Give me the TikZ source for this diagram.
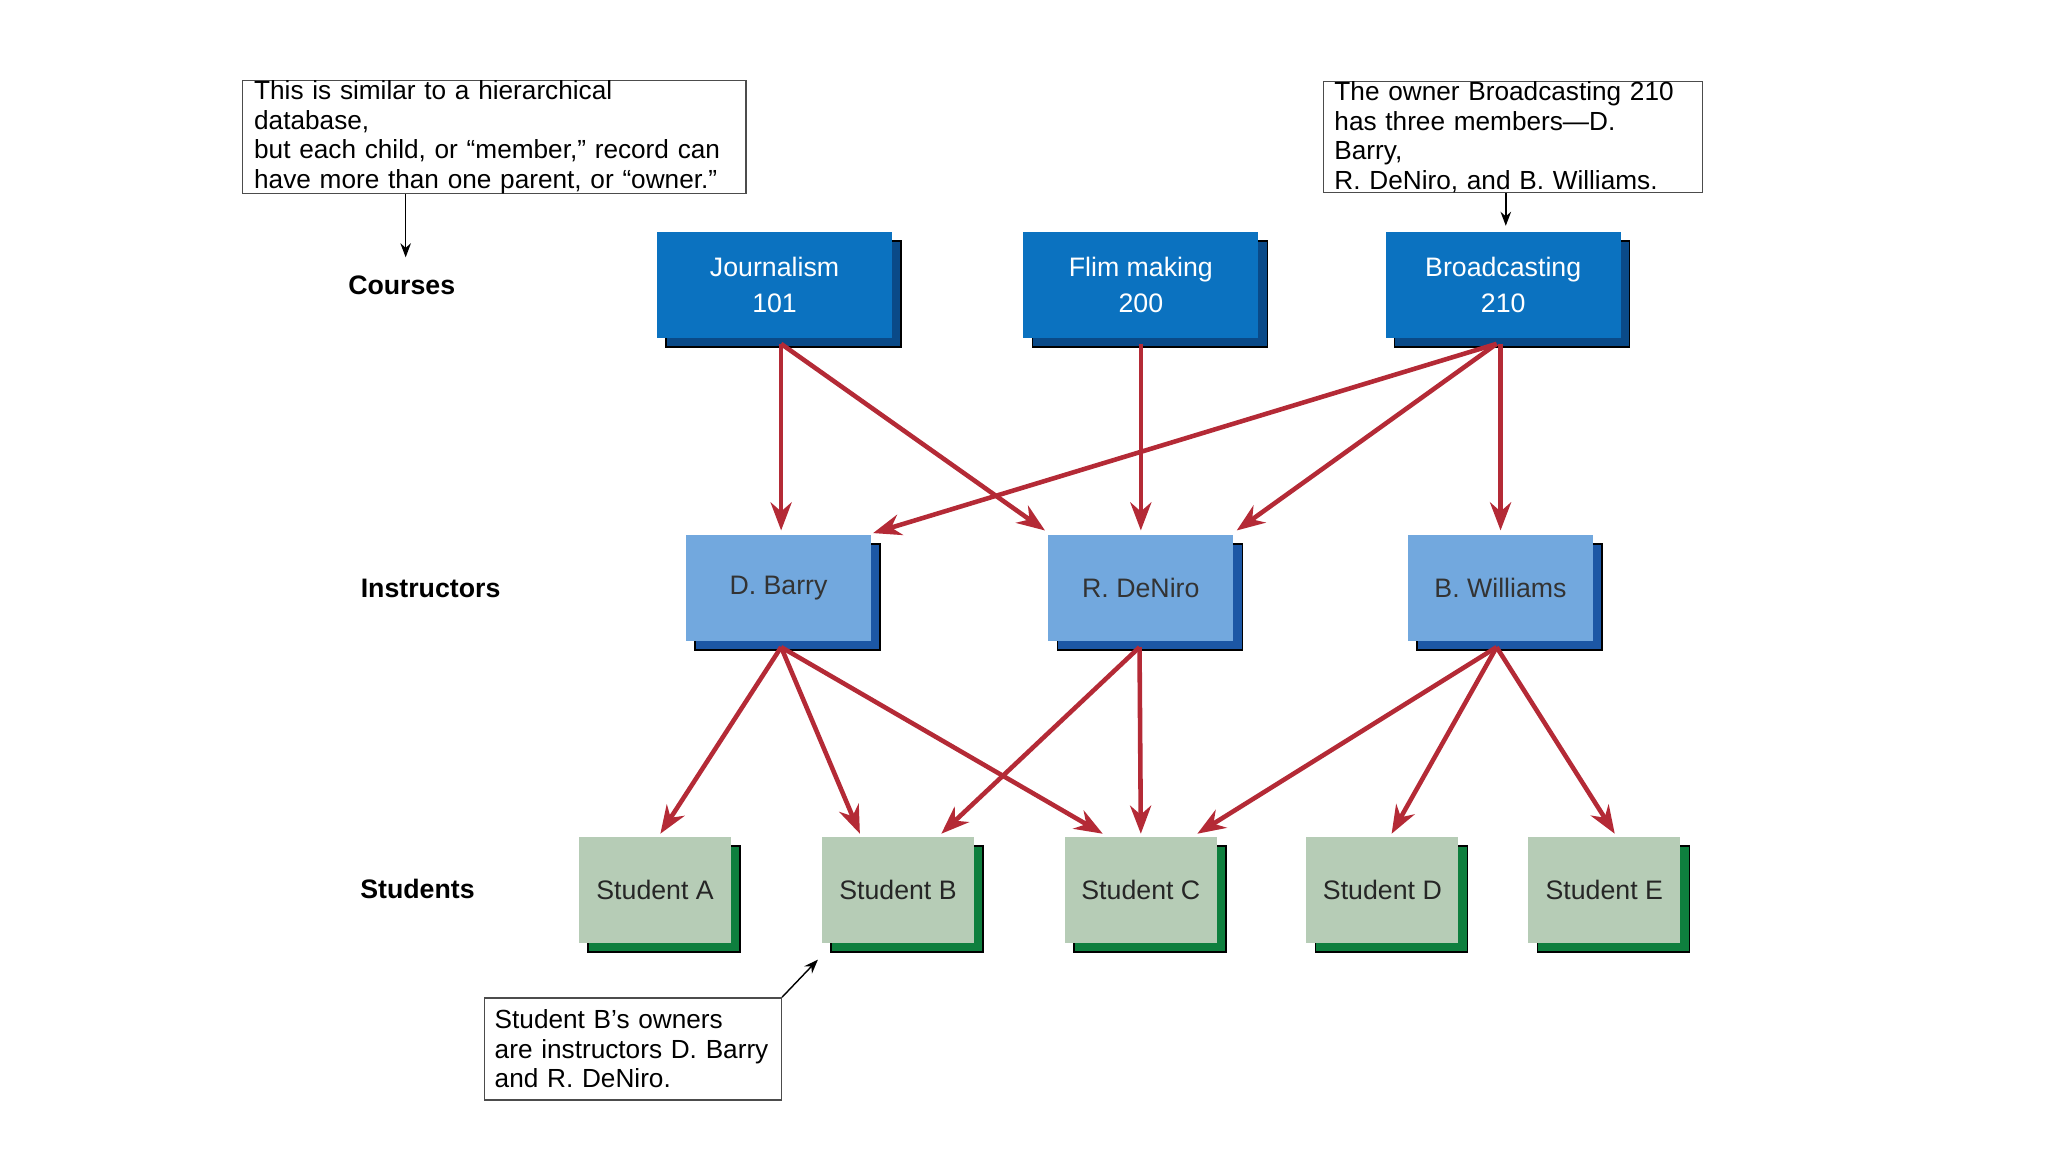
\documentclass[tikz,border=0pt]{standalone}
\usepackage{fontspec}
\setmainfont{Liberation Sans}
\usetikzlibrary{arrows.meta,shadows,calc}
\definecolor{crsface}{HTML}{0B72C0}
\definecolor{crsshadow}{HTML}{0A4A88}
\definecolor{insface}{HTML}{72A8DE}
\definecolor{insshadow}{HTML}{1C57A5}
\definecolor{stuface}{HTML}{B6CCB6}
\definecolor{stushadow}{HTML}{0E7F3E}
\definecolor{link}{HTML}{B42A36}
\tikzset{
  box/.style={minimum height=1.06cm, inner sep=0pt, align=center, font=\fontsize{7.6}{10}\selectfont},
  course/.style={box, minimum width=2.35cm, fill=crsface, text=white,
    copy shadow={shadow xshift=0.09cm, shadow yshift=-0.09cm, fill=crsshadow}},
  instr/.style={box, minimum width=1.85cm, fill=insface, text=black!80,
    copy shadow={shadow xshift=0.09cm, shadow yshift=-0.09cm, fill=insshadow}},
  stud/.style={box, minimum width=1.52cm, fill=stuface, text=black!85,
    copy shadow={shadow xshift=0.09cm, shadow yshift=-0.09cm, fill=stushadow}},
  rel/.style={-{Stealth[length=8pt,width=6pt]}, link, line width=1.3pt},
  note/.style={draw=black!70, line width=0.4pt, align=left, inner sep=0pt,
    font=\fontsize{7.45}{8.4}\selectfont},
  pointer/.style={-{Stealth[length=4pt,width=3pt]}, line width=0.4pt},
  level/.style={font=\bfseries\fontsize{7.6}{10}\selectfont}
}
\begin{document}
\begin{tikzpicture}[x=0.01313cm,y=-0.01313cm]
\useasboundingbox (0,0) rectangle (1560,877);

% levels
\node[level] (lc) at (306,217) {Courses};
\node[level] (li) at (328,448) {Instructors};
\node[level] (ls) at (318,677) {Students};

% courses
\node[course] (j) at (590,217) {Journalism\\101};
\node[course] (f) at (869,217) {Flim making\\200};
\node[course] (b) at (1145,217) {Broadcasting\\210};

% instructors
\node[instr] (db) at (593,448) {D. Barry};
\node[instr] (rd) at (869,448) {R. DeNiro};
\node[instr] (bw) at (1143,448) {B. Williams};

% students
\node[stud] (sa) at (499,678) {Student A};
\node[stud] (sb) at (684,678) {Student B};
\node[stud] (sc) at (869,678) {Student C};
\node[stud] (sd) at (1053,678) {Student D};
\node[stud] (se) at (1222,678) {Student E};

% course -> instructor
\draw[rel] ($(j.south)+(5,4)$) -- ($(db.north)+(2,-3)$);
\draw[rel] ($(j.south)+(5,4)$) -- ($(rd.north west)+(-2,-3)$);
\draw[rel] ($(f.south)+(0,4)$) -- ($(rd.north)+(0,-3)$);
\draw[rel] ($(b.south)+(-5,4)$) -- ($(db.north east)+(1,-1)$);
\draw[rel] ($(b.south)+(-5,4)$) -- ($(rd.north east)+(2,-3)$);
\draw[rel] ($(b.south)+(-2,4)$) -- ($(bw.north)+(0,-3)$);

% instructor -> student
\draw[rel] ($(db.south)+(2,4)$) -- ($(sa.north)+(4,-2)$);
\draw[rel] ($(db.south)+(2,4)$) -- ($(sb.north)+(-29,-2)$);
\draw[rel] ($(db.south)+(2,4)$) -- ($(sc.north)+(-29,-2)$);
\draw[rel] ($(rd.south)+(-1,4)$) -- ($(sb.north)+(33,-2)$);
\draw[rel] ($(rd.south)+(-1,4)$) -- ($(sc.north)+(0,-2)$);
\draw[rel] ($(bw.south)+(-3,4)$) -- ($(sc.north)+(43,-2)$);
\draw[rel] ($(bw.south)+(-3,4)$) -- ($(sd.north)+(7,-2)$);
\draw[rel] ($(bw.south)+(-3,4)$) -- ($(se.north)+(8,-2)$);

% notes
\node[note, minimum width=5.03cm, minimum height=1.04cm, text width=4.8cm] (n1) at (376.5,104.5)
  {This is similar to a hierarchical database,\\but each child, or “member,” record can\\have more than one parent, or “owner.”};
\coordinate (n1t) at (309,196);
\draw[pointer] (n1.south -| n1t) -- (n1t);

\node[note, minimum width=3.79cm, minimum height=1.04cm, text width=3.57cm] (n2) at (1152.5,104.5)
  {The owner Broadcasting 210\\has three members—D. Barry,\\R. DeNiro, and B. Williams.};
\coordinate (n2t) at (1147,172);
\draw[pointer] (n2.south -| n2t) -- (n2t);

\node[note, minimum width=2.97cm, minimum height=1.02cm, text width=2.76cm] (n3) at (482,799)
  {Student B’s owners\\are instructors D. Barry\\and R. DeNiro.};
\coordinate (n3t) at (623,731);
\draw[pointer] (n3.north east) -- (n3t);
\end{tikzpicture}
\end{document}
